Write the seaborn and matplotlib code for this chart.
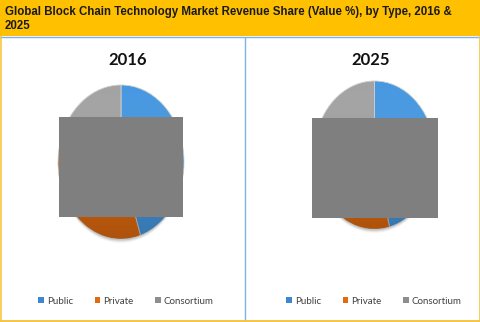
import numpy as np
import matplotlib
matplotlib.use("Agg")
import matplotlib.pyplot as plt
from matplotlib.patches import Rectangle, Ellipse
from matplotlib.lines import Line2D
import seaborn as sns

# Revenue share by blockchain type (%)
types = ["Public", "Private", "Consortium"]
share_2016 = [45, 35, 20]
share_2025 = [46, 34, 20]
years = ["2016", "2025"]
title = "Global Block Chain Technology Market Revenue Share (Value %), by Type, 2016 &\n2025"

sns.set_theme(style="white")
plt.rcParams["font.family"] = ["Liberation Sans", "DejaVu Sans"]

palette = sns.color_palette(["#4698E1", "#DF6A10", "#A3A3A3"])
legend_colors = ["#3D86D2", "#E06B10", "#8E8E8E"]

W, H = 480, 322
fig = plt.figure(figsize=(W / 100, H / 100), dpi=100)
fig.patch.set_facecolor("white")


def fx(x):
    return x / W


def fy(y):
    return 1 - y / H


def box(x0, y0, x1, y1):
    return [fx(x0), fy(y1), fx(x1) - fx(x0), fy(y0) - fy(y1)]


# header band
fig.patches.append(Rectangle((0, fy(36)), 1, 1 - fy(36), transform=fig.transFigure,
                             facecolor="#FFC000", edgecolor="none", zorder=0))
fig.text(fx(5), fy(5.5), title, ha="left", va="top", fontsize=8.3, fontweight="bold",
         color="#1a1a1a", linespacing=1.3, family=["Liberation Sans", "DejaVu Sans"])

# frame lines
fig.add_artist(Line2D([0, 1], [fy(37), fy(37)], transform=fig.transFigure, color="#7FB2E5", lw=1.0))
fig.add_artist(Line2D([fx(244.5), fx(244.5)], [0, fy(37)], transform=fig.transFigure, color="#7FB2E5", lw=1.0))
fig.add_artist(Line2D([fx(0.5), fx(0.5)], [0, fy(36)], transform=fig.transFigure, color="#F5C542", lw=1.2))
fig.add_artist(Line2D([fx(479.5), fx(479.5)], [0, fy(36)], transform=fig.transFigure, color="#F5C542", lw=1.2))
fig.add_artist(Line2D([0, 1], [fy(321.3), fy(321.3)], transform=fig.transFigure, color="#F5C542", lw=1.4))

panels = [
    dict(values=share_2016, year=years[0], pie=(58, 85, 184, 243), title_xy=(128, 60),
         legend_x=126, cover=(59, 117, 183, 217)),
    dict(values=share_2025, year=years[1], pie=(314, 81, 435, 233), title_xy=(371, 60),
         legend_x=374, cover=(312, 118, 438, 218)),
]

grad = np.linspace(0, 1, 256).reshape(-1, 1)

for p in panels:
    ax = fig.add_axes(box(*p["pie"]))
    # soft drop shadow under the pie
    for k, a in enumerate([0.10, 0.07, 0.05, 0.03]):
        ax.add_patch(Ellipse((0, -0.015 - 0.012 * k), 1.97, 2.0,
                             facecolor="black", alpha=a, edgecolor="none", zorder=0))
    wedges, _ = ax.pie(p["values"], colors=palette, startangle=90, counterclock=False,
                       wedgeprops=dict(linewidth=0.6, edgecolor="#d0d0d0"))
    for w in wedges:
        w.set_zorder(1)
    # vertical shading over the pie surface
    im = ax.imshow(grad, extent=(-1, 1, -1, 1), cmap="Greys", alpha=grad * 0.22,
                   vmin=0, vmax=0.6, aspect="auto", zorder=2, origin="upper")
    clip = Ellipse((0, 0), 2, 2, transform=ax.transData)
    im.set_clip_path(clip)
    ax.set_aspect("auto")
    ax.set_xlim(-1, 1)
    ax.set_ylim(-1.05, 1)
    ax.axis("off")

    fig.text(fx(p["title_xy"][0]), fy(p["title_xy"][1]), p["year"], ha="center", va="center",
             fontsize=12, fontweight="bold", color="#111111", family=["Lato", "DejaVu Sans"])

    handles = [Rectangle((0, 0), 1, 1, facecolor=c, edgecolor="none") for c in legend_colors]
    fig.legend(handles, types, loc="center", bbox_to_anchor=(fx(p["legend_x"]), fy(301)),
               ncol=3, frameon=False, handlelength=0.6, handleheight=0.65,
               handletextpad=0.3, columnspacing=2.2, labelcolor="#404040",
               prop=dict(family=["Lato", "DejaVu Sans"], size=7.0))

    fig.patches.append(Rectangle((fx(p["cover"][0]), fy(p["cover"][3])),
                                 fx(p["cover"][2]) - fx(p["cover"][0]),
                                 fy(p["cover"][1]) - fy(p["cover"][3]),
                                 transform=fig.transFigure, facecolor="#7F7F7F",
                                 edgecolor="none", zorder=10))

fig.savefig("out.png", dpi=100, facecolor="white")
